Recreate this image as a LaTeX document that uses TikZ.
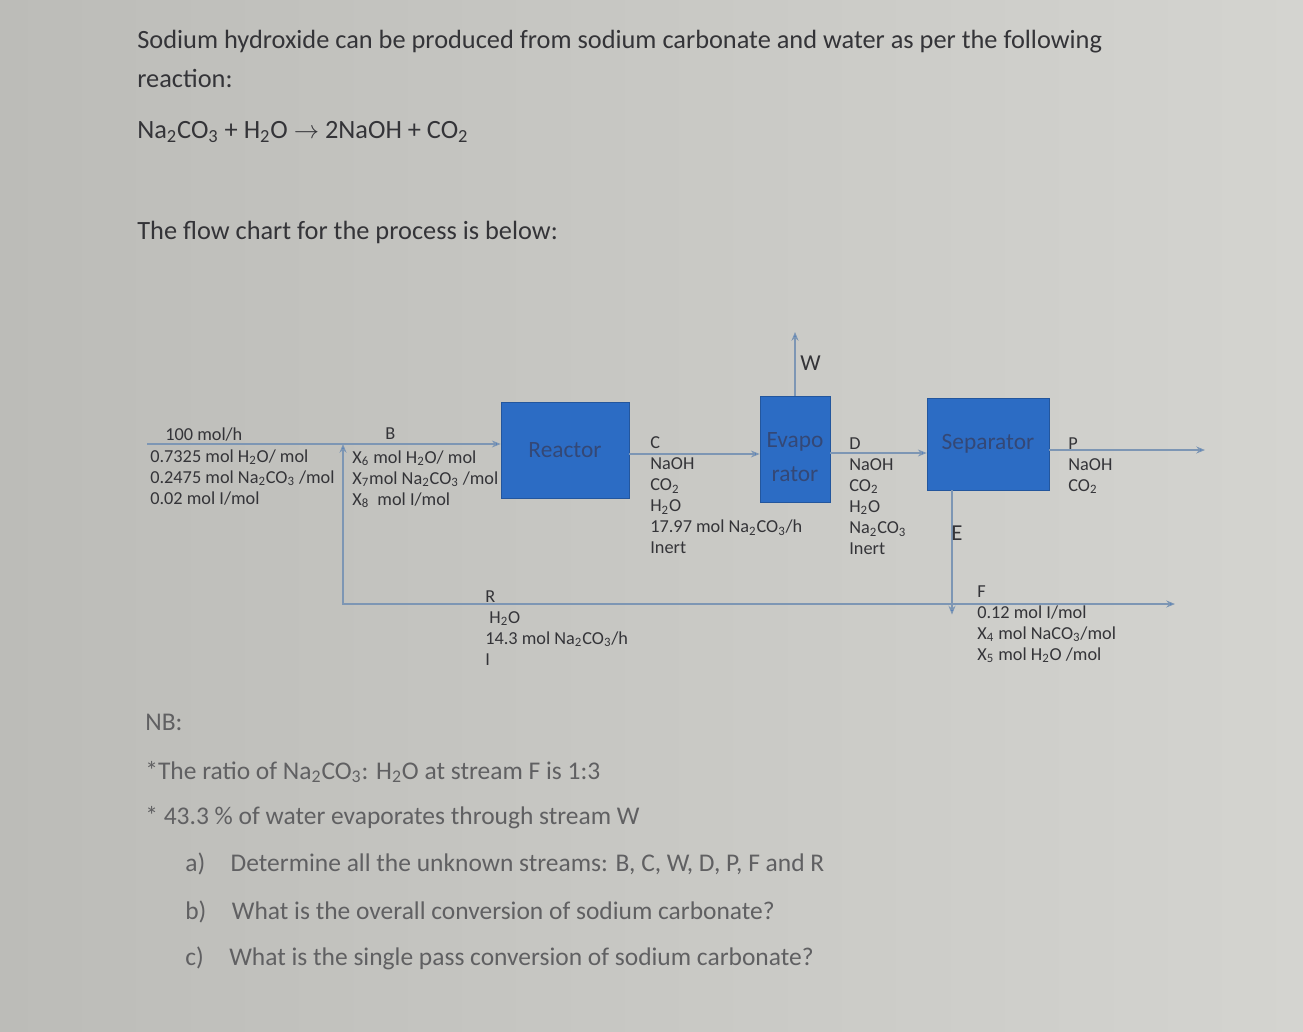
\documentclass[tikz,border=0pt]{standalone}
\usepackage{fontspec}
\setmainfont{Carlito}
\usetikzlibrary{arrows.meta,positioning}

\definecolor{screenleft}{RGB}{188,188,184}
\definecolor{screenright}{RGB}{212,212,208}
\definecolor{unitblue}{RGB}{44,108,196}
\definecolor{unittext}{RGB}{52,72,118}
\definecolor{flowline}{RGB}{125,150,180}
\definecolor{darktext}{RGB}{52,52,56}
\definecolor{softtext}{RGB}{96,96,98}

\newcommand{\chsub}[1]{\textsubscript{#1}}

\begin{document}
\begin{tikzpicture}[
x=0.02cm, y=-0.02cm,
>={Stealth[length=5pt,width=4pt]},
unit/.style = {fill=unitblue, draw=unitblue!80!black, inner sep=0pt, text=unittext,
               font=\fontsize{13.3}{14}\selectfont, align=center},
stream/.style = {draw=flowline, line width=0.6pt, arrows={-Stealth[length=5pt,width=4pt,fill=unitblue]}},
plain stream/.style = {draw=flowline, line width=0.6pt},
stream label/.style = {anchor=north west, align=left, inner sep=0pt, text=darktext,
                       font=\fontsize{10.4}{12}\selectfont},
body text/.style = {anchor=west, inner sep=0pt, text=darktext, font=\fontsize{15}{17}\selectfont},
note text/.style = {anchor=west, inner sep=0pt, text=softtext, font=\fontsize{14.5}{17}\selectfont},
]

% screen background
\shade[left color=screenleft, right color=screenright] (0,0) rectangle (1303,1032);

% problem statement
\node (intro) [body text] at (137,42)
  {Sodium hydroxide can be produced from sodium carbonate and water as per the following};
\node (react) [body text] at (137,78) {reaction:};
\node (eqn) [body text] at (137,132)
  {Na\chsub{2}CO\chsub{3} + H\chsub{2}O $\rightarrow$ 2NaOH + CO\chsub{2}};
\node (chart) [body text] at (137,232) {The flow chart for the process is below:};

% process units
\node (reactor) [unit, minimum width=2.56cm, minimum height=1.92cm] at (565,450) {Reactor};
\node (evap) [unit, minimum width=1.4cm, minimum height=2.12cm] at (795,449) {};
\node (evaplabel) [unit, fill=none, draw=none, yshift=-0.16cm] at (evap) {Evapo\\[5pt]rator};
\node (sep) [unit, minimum width=2.44cm, minimum height=1.84cm] at (988,444) {Separator};

% stream end points
\coordinate (feedin) at (147,444);
\coordinate (mix) at (343,444);
\coordinate (wout) at (795,332);
\coordinate (pout) at (1205,450);
\coordinate (split) at (952,604);
\coordinate (fout) at (1175,604);

% streams
\draw[plain stream] (feedin) -- (mix);
\draw[stream] (mix) -- (reactor.west |- mix);
\draw[stream] (reactor.east) ++(0,4) -- (evap.west |- 0,454);
\draw[stream] (evap.north) -- (wout);
\draw[stream] (evap.east) ++(0,4) -- (sep.west |- 0,453);
\draw[stream] (sep.east) ++(0,6) -- (pout);
\draw[stream] (sep.south -| split) -- ([yshift=-6]split);
\draw[stream] (split) -- (fout);
\draw[stream] (split) -- (mix |- split) -- (mix);

% stream labels
\node (feedrate) [stream label] at (165,427) {100 mol/h};
\node (feedcomp) [stream label] at (150,449)
  {0.7325 mol H\chsub{2}O/ mol\\0.2475 mol Na\chsub{2}CO\chsub{3} /mol\\0.02 mol I/mol};
\node (bname) [stream label] at (385,427) {B};
\node (bcomp) [stream label] at (352,450)
  {X\chsub{6} mol H\chsub{2}O/ mol\\X\chsub{7}mol Na\chsub{2}CO\chsub{3} /mol\\X\chsub{8}\ \ mol I/mol};
\node (ccomp) [stream label] at (650,436)
  {C\\NaOH\\CO\chsub{2}\\H\chsub{2}O\\17.97 mol Na\chsub{2}CO\chsub{3}/h\\Inert};
\node (wname) [stream label, font=\fontsize{13}{14}\selectfont] at (800,355) {W};
\node (dcomp) [stream label] at (849,437)
  {D\\NaOH\\CO\chsub{2}\\H\chsub{2}O\\Na\chsub{2}CO\chsub{3}\\Inert};
\node (pcomp) [stream label] at (1068,437) {P\\NaOH\\CO\chsub{2}};
\node (ename) [stream label, font=\fontsize{13}{14}\selectfont] at (951,525) {E};
\node (fcomp) [stream label] at (977,585)
  {F\\0.12 mol I/mol\\X\chsub{4} mol NaCO\chsub{3}/mol\\X\chsub{5} mol H\chsub{2}O /mol};
\node (rcomp) [stream label] at (485,590)
  {R\\\ H\chsub{2}O\\14.3 mol Na\chsub{2}CO\chsub{3}/h\\I};

% notes and questions
\node (nb) [note text] at (145,722) {NB:};
\node (ratio) [note text] at (145,772) {*The ratio of Na\chsub{2}CO\chsub{3}: H\chsub{2}O at stream F is 1:3};
\node (evaprate) [note text] at (145,818) {* 43.3 \% of water evaporates through stream W};
\node (qa) [note text] at (185,864) {a)\quad Determine all the unknown streams: B, C, W, D, P, F and R};
\node (qb) [note text] at (185,912) {b)\quad What is the overall conversion of sodium carbonate?};
\node (qc) [note text] at (185,958) {c)\quad What is the single pass conversion of sodium carbonate?};

\end{tikzpicture}
\end{document}
